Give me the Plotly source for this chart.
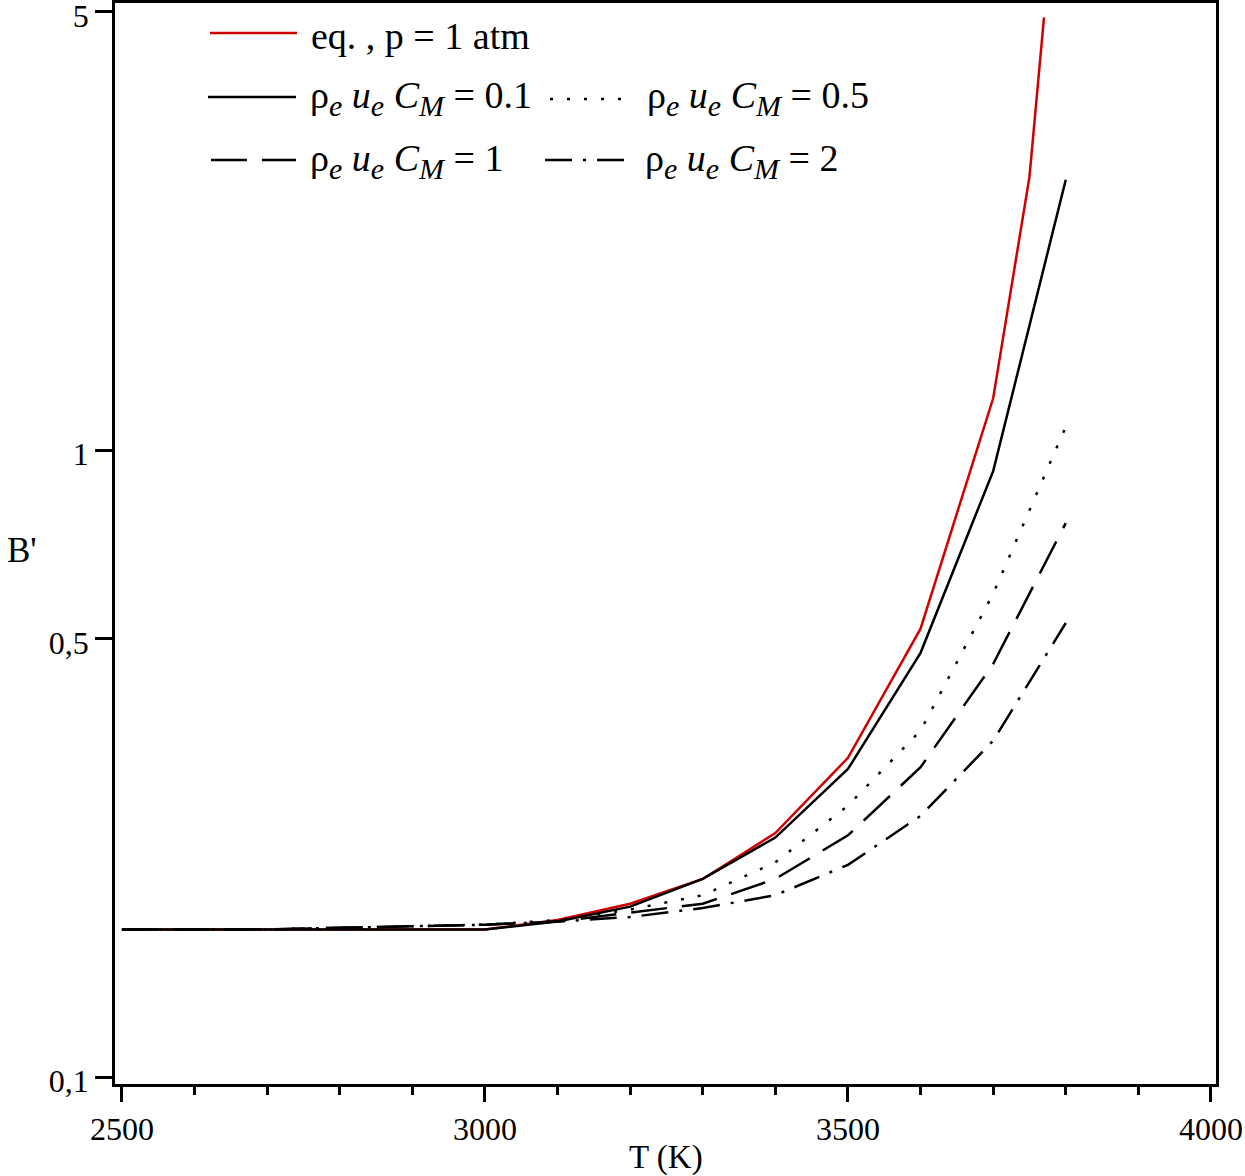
import plotly.graph_objects as go

# ---- data ----
T = [2500, 2600, 2700, 2800, 2900, 3000, 3100, 3200, 3300, 3400, 3500, 3600, 3700, 3800]
T_eq = [2500, 2600, 2700, 2800, 2900, 3000, 3100, 3200, 3300, 3400, 3500, 3600, 3700, 3750, 3770]

B_eq = [0.172, 0.172, 0.172, 0.172, 0.172, 0.172, 0.178, 0.189, 0.207, 0.245, 0.323, 0.519, 1.21, 2.73, 4.9]
B_01 = [0.172, 0.172, 0.172, 0.172, 0.172, 0.172, 0.177, 0.187, 0.207, 0.241, 0.310, 0.475, 0.926, 2.70]
B_05 = [0.172, 0.172, 0.172, 0.173, 0.174, 0.175, 0.178, 0.185, 0.195, 0.220, 0.271, 0.357, 0.590, 1.09]
B_1 = [0.172, 0.172, 0.172, 0.173, 0.174, 0.175, 0.177, 0.183, 0.189, 0.207, 0.243, 0.312, 0.456, 0.765]
B_2 = [0.172, 0.172, 0.172, 0.173, 0.174, 0.175, 0.177, 0.180, 0.186, 0.195, 0.218, 0.261, 0.344, 0.530]

y_tickvals = [0.1, 0.5, 1, 5]
y_ticktext = ["0,1", "0,5", "1", "5"]
x_tickvals = [2500, 3000, 3500, 4000]

SUB = '<sub><span style="font-size:30px"><i>{}</i></span></sub>'
RHO_UE_CM = "ρ" + SUB.format("e") + " <i>u</i>" + SUB.format("e") + " <i>C</i>" + SUB.format("M")
legend_labels = [
    "eq. , p = 1 atm",
    RHO_UE_CM + " = 0.1",
    RHO_UE_CM + " = 0.5",
    RHO_UE_CM + " = 1",
    RHO_UE_CM + " = 2",
]

RED = "#d00000"
BLK = "#000000"
LW = 2.5
DOT = "3px,14px"
DASH = "36px,15px"
DASHDOT = "27px,11px,3px,11px"

FONT = "Liberation Serif"

fig = go.Figure()
series = [
    (T_eq, B_eq, RED, "solid", legend_labels[0]),
    (T, B_2, BLK, DASHDOT, legend_labels[4]),
    (T, B_1, BLK, DASH, legend_labels[3]),
    (T, B_05, BLK, DOT, legend_labels[2]),
    (T, B_01, BLK, "solid", legend_labels[1]),
]
for xs, ys, col, dash, name in series:
    fig.add_trace(go.Scatter(x=xs, y=ys, mode="lines", name=name, showlegend=False,
                             line=dict(color=col, width=LW, dash=dash)))

# ---- manual legend (paper coordinates) ----
L, R, TOP, BOT = 115, 29, 3, 92
PW = 1245 - L - R
PH = 1176 - TOP - BOT


def px_x(p):
    return (p - L) / PW


def px_y(p):
    return (1176 - BOT - p) / PH


legend_items = [
    # (line x0, line x1, line y, color, dash, text x, text y, label)
    (210, 297, 33, RED, "solid", 309, 36, legend_labels[0]),
    (208, 296, 97, BLK, "solid", 308, 98, legend_labels[1]),
    (550, 622, 99, BLK, DOT, 645, 98, legend_labels[2]),
    (211, 296, 160, BLK, DASH, 308, 161, legend_labels[3]),
    (545, 624, 160, BLK, DASHDOT, 643, 161, legend_labels[4]),
]
shapes = []
annotations = []
for x0, x1, y, col, dash, tx, ty, lab in legend_items:
    shapes.append(dict(type="line", xref="paper", yref="paper",
                       x0=px_x(x0), x1=px_x(x1), y0=px_y(y), y1=px_y(y),
                       line=dict(color=col, width=LW, dash=dash)))
    annotations.append(dict(xref="paper", yref="paper", x=px_x(tx), y=px_y(ty),
                            xanchor="left", yanchor="middle", showarrow=False,
                            text=lab, font=dict(family=FONT, size=38, color="black")))

annotations.append(dict(xref="paper", yref="paper", x=px_x(22), y=px_y(550),
                        xanchor="center", yanchor="middle", showarrow=False,
                        text="B'", font=dict(family=FONT, size=35, color="black")))
annotations.append(dict(xref="paper", yref="paper", x=0.5, y=px_y(1157),
                        xanchor="center", yanchor="middle", showarrow=False,
                        text="T (K)", font=dict(family=FONT, size=33, color="black")))

fig.update_layout(
    width=1245, height=1176,
    margin=dict(l=L, r=R, t=TOP, b=BOT, autoexpand=False),
    paper_bgcolor="white", plot_bgcolor="white",
    font=dict(family=FONT, size=32, color="black"),
    shapes=shapes, annotations=annotations,
    showlegend=False,
)
fig.update_xaxes(
    range=[2490.5, 4006.9], tickvals=x_tickvals, ticks="outside", ticklen=15, tickwidth=2.5,
    tickcolor="black", showgrid=False, zeroline=False, showline=True, linewidth=2.5,
    linecolor="black", mirror=True, tickfont=dict(family=FONT, size=32),
    ticklabeloverflow="allow", automargin=False,
    minor=dict(dtick=100, tick0=2500, ticks="outside", ticklen=8, tickwidth=2.5,
               tickcolor="black", showgrid=False),
)
fig.update_yaxes(
    type="log", range=[-1.0111, 0.7133], tickvals=y_tickvals, ticktext=y_ticktext,
    ticks="outside", ticklen=17, tickwidth=2.5, tickcolor="black", showgrid=False,
    zeroline=False, showline=True, linewidth=2.5, linecolor="black", mirror=True,
    tickfont=dict(family=FONT, size=32), ticklabeloverflow="allow", automargin=False,
    ticklabelshift=4,
)

fig.write_html("out.html")
